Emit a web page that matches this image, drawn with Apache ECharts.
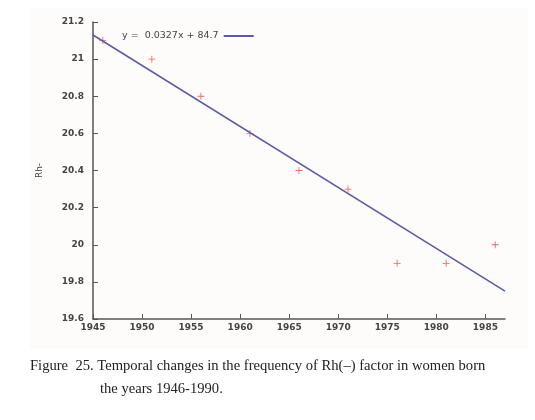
<!DOCTYPE html>
<html><head><meta charset="utf-8">
<script src="https://cdn.jsdelivr.net/npm/echarts@6/dist/echarts.min.js"></script>
<style>html,body{margin:0;padding:0;background:#fff}#c{width:535px;height:420px}</style>
</head><body><div id="c"></div>
<script>
const years = [1946, 1951, 1956, 1961, 1966, 1971, 1976, 1981, 1986];
const rhNeg = [21.1, 21.0, 20.8, 20.6, 20.4, 20.3, 19.9, 19.9, 20.0];
const trendX = [1945, 1987];
const trendY = [21.13, 19.75];
const xTicks = [1945, 1950, 1955, 1960, 1965, 1970, 1975, 1980, 1985];
const trendName = 'y =  0.0327x + 84.7';
const caption1 = 'Figure  25. Temporal changes in the frequency of Rh(\u2013) factor in women born';
const caption2 = 'the years 1946-1990.';

const chart = echarts.init(document.getElementById('c'), null, {renderer: 'canvas'});
const axisCol = '#555';
const labelFont = {fontFamily: 'DejaVu Sans', fontSize: 9, color: '#444', fontWeight: 'bold'};
chart.setOption({
  animation: false,
  backgroundColor: '#fff',
  graphic: [
    {type: 'rect', z: -10, shape: {x: 30, y: 8, width: 498, height: 341}, style: {fill: '#fdfcfa'}},
    {type: 'text', left: 30, top: 359, style: {text: caption1, font: '14.6px "Liberation Serif"', fill: '#222'}},
    {type: 'text', left: 100, top: 382, style: {text: caption2, font: '14.6px "Liberation Serif"', fill: '#222'}}
  ],
  grid: {left: 93, right: 30, top: 22, bottom: 101},
  legend: {
    left: 117, top: 26, align: 'right', itemWidth: 30, itemHeight: 2, itemGap: 6,
    data: [{name: trendName, icon: 'rect'}],
    textStyle: {fontFamily: 'DejaVu Sans', fontSize: 9.5, color: '#444'}
  },
  xAxis: {
    type: 'value', min: 1945, max: 1987, interval: 5,
    splitLine: {show: false},
    axisLine: {lineStyle: {color: axisCol, width: 1.5}},
    axisTick: {inside: true, length: 5, lineStyle: {color: axisCol}, customValues: xTicks},
    axisLabel: Object.assign({margin: 4, customValues: xTicks, formatter: v => String(v)}, labelFont)
  },
  yAxis: {
    type: 'value', min: 19.6, max: 21.2, interval: 0.2,
    name: 'Rh-', nameLocation: 'middle', nameGap: 49, nameRotate: 90,
    nameTextStyle: {fontFamily: 'DejaVu Sans', fontSize: 9, color: '#444'},
    splitLine: {show: false},
    axisLine: {show: true, lineStyle: {color: axisCol, width: 1.5}},
    axisTick: {show: true, inside: true, length: 5, lineStyle: {color: axisCol}},
    axisLabel: Object.assign({margin: 9, formatter: v => String(+v.toFixed(1))}, labelFont)
  },
  series: [
    {
      type: 'scatter', name: 'data',
      symbol: 'path://M-0.6,-5H0.6V-0.6H5V0.6H0.6V5H-0.6V0.6H-5V-0.6H-0.6Z',
      symbolSize: 7,
      itemStyle: {color: '#e8403a'},
      data: years.map((y, i) => [y, rhNeg[i]])
    },
    {
      type: 'line', name: trendName, symbol: 'none',
      lineStyle: {color: '#5a5aa8', width: 1.5},
      itemStyle: {color: '#5a5aa8'},
      data: trendX.map((x, i) => [x, trendY[i]])
    }
  ]
});
</script></body></html>
